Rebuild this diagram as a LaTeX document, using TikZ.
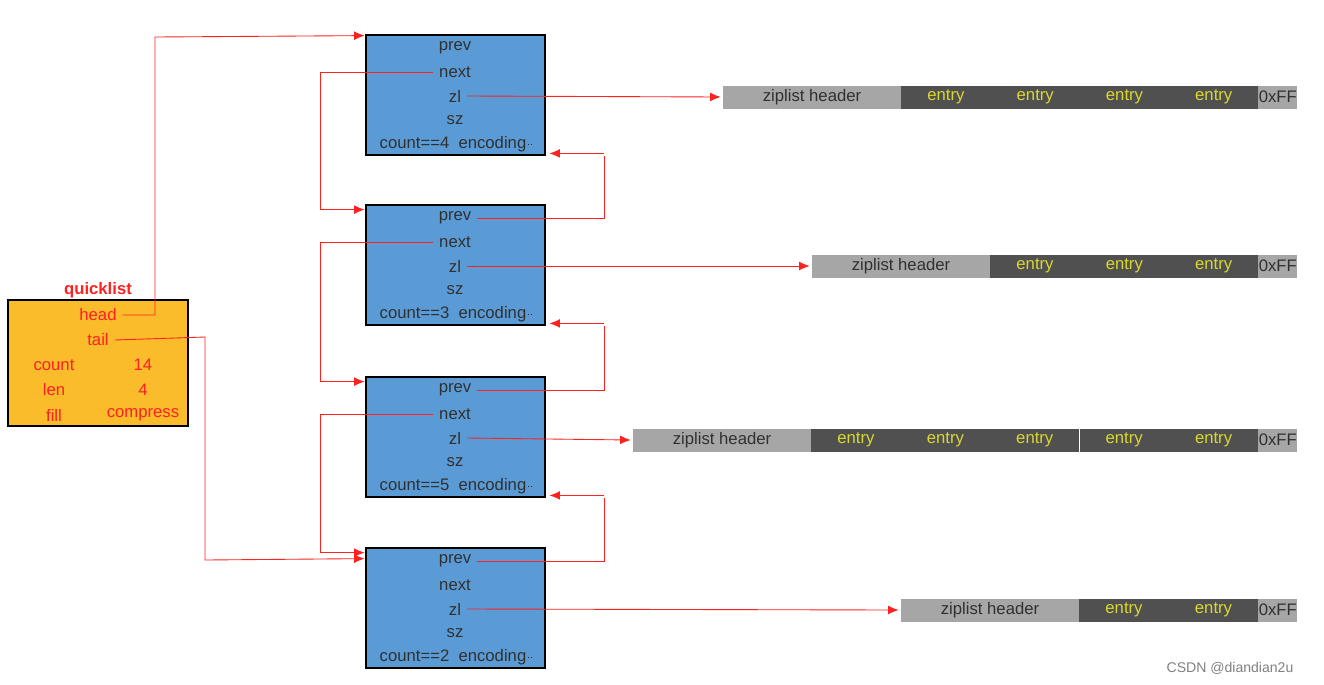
\documentclass[tikz,border=0pt]{standalone}
\usepackage{fontspec}
\setmainfont{Liberation Sans}
\usetikzlibrary{positioning,calc,arrows.meta}
\definecolor{nodeblue}{HTML}{5B9BD5}
\definecolor{qlorange}{HTML}{FBBC2C}
\definecolor{hdrgray}{HTML}{A6A6A6}
\definecolor{entgray}{HTML}{505050}
\definecolor{entyellow}{HTML}{D8D830}
\definecolor{txtdark}{HTML}{303030}
\definecolor{linkred}{HTML}{FF2020}
\begin{document}
\begin{tikzpicture}[x=0.02cm,y=-0.02cm,
  qnode/.style={rectangle,draw=black,line width=1.6pt,fill=nodeblue,minimum width=179*0.02cm,minimum height=120*0.02cm,inner sep=0pt},
  qlist/.style={rectangle,draw=black,line width=1.6pt,fill=qlorange,minimum width=180*0.02cm,minimum height=126*0.02cm,inner sep=0pt},
  field/.style={text=txtdark,font=\fontsize{9.5}{10}\selectfont,inner sep=1pt},
  qfield/.style={text=linkred,font=\fontsize{9.5}{10}\selectfont,inner sep=1pt},
  hdr/.style={rectangle,fill=hdrgray,text=txtdark,minimum width=178*0.02cm,minimum height=23*0.02cm,inner sep=0pt,font=\fontsize{9.5}{10}\selectfont},
  ent/.style={rectangle,fill=entgray,text=entyellow,minimum width=89.25*0.02cm,minimum height=23*0.02cm,inner sep=0pt,font=\fontsize{9.5}{10}\selectfont},
  zend/.style={rectangle,fill=hdrgray,text=txtdark,minimum width=39*0.02cm,minimum height=23*0.02cm,inner sep=0pt,font=\fontsize{9.5}{10}\selectfont},
  link/.style={draw=linkred,line width=0.5pt,-{Latex[length=6pt,width=5pt]}},
  plain/.style={draw=linkred,line width=0.5pt}]

\useasboundingbox (0,0) rectangle (1324,684);

% quicklist
\node[qlist] at (98,363) (ql) {};
\node[font=\bfseries\fontsize{9.5}{10}\selectfont,text=linkred] at (98,290) (qltitle) {quicklist};
\node[qfield] at (98,315) (qlhead) {head};
\node[qfield] at (98,340) (qltail) {tail};
\node[qfield] at (54,365) (qlcount) {count};
\node[qfield] at (143,365) (qlcountv) {14};
\node[qfield] at (54,390) (qllen) {len};
\node[qfield] at (143,390) (qllenv) {4};
\node[qfield] at (54,415) (qlfill) {fill};
\node[qfield] at (143,415) (qlfillv) {compress};

% quicklist nodes
\foreach \i/\y/\c in {1/35/4,2/205/3,3/377/5,4/548/2}{
  \node[qnode] at (455.5,\y+60) (b\i) {};
  \node[field] at (455,\y+13) (b\i prev) {prev};
  \node[field] at (455,\y+37) (b\i next) {next};
  \node[field] at (455,\y+61) (b\i zl) {zl};
  \node[field] at (455,\y+85) (b\i sz) {sz};
  \node[field] at (453,\y+109) (b\i cnt) {count==\c\ \ encoding};
  \draw[densely dotted,line width=0.4pt,txtdark] (b\i cnt.east) -- ++(4,0);
}

% ziplists
\node[hdr] at (812,97) (z1h) {ziplist header};
\foreach \k in {1,...,4}{\node[ent,anchor=west] at (901+89.25*\k-89.25,97) (z1e\k) {entry};}
\node[zend,anchor=west] at (1258,97) (z1end) {0xFF};

\node[hdr] at (901,266) (z2h) {ziplist header};
\foreach \k in {1,...,3}{\node[ent,anchor=west] at (990+89.33*\k-89.33,266) (z2e\k) {entry};}
\node[zend,anchor=west] at (1258,266) (z2end) {0xFF};

\node[hdr] at (722,440) (z3h) {ziplist header};
\foreach \k in {1,...,5}{\node[ent,anchor=west] at (811+89.4*\k-89.4,440) (z3e\k) {entry};}
\node[zend,anchor=west] at (1258,440) (z3end) {0xFF};

\node[hdr] at (990,610) (z4h) {ziplist header};
\foreach \k in {1,...,2}{\node[ent,anchor=west] at (1079+89.5*\k-89.5,610) (z4e\k) {entry};}
\node[zend,anchor=west] at (1258,610) (z4end) {0xFF};

% head / tail
\draw[link] (qlhead.east) ++(4,0) -- (155,315) -- (155,37) -- ([yshift=-2*0.02cm]b1.north west);
\draw[link] (qltail.east) ++(4,0) -- (205,337) -- (205,560) -- ([yshift=-12*0.02cm]b4.north west);

% next pointers
\foreach \i/\j in {1/2,2/3,3/4}{
  \draw[link] ([xshift=-4*0.02cm]b\i next.west) -- ++(-113,0) |- ([yshift=-6*0.02cm]b\j.north west);
}
% prev pointers
\foreach \i/\j in {2/1,3/2,4/3}{
  \draw[link] ([xshift=4*0.02cm]b\i prev.east) -| (604,0 |- b\j.south) ++(0,-3) -- ([xshift=3*0.02cm,yshift=3*0.02cm]b\j.south east);
}
% zl pointers
\draw[link] ([xshift=4*0.02cm]b1zl.east) -- ([xshift=-2*0.02cm]z1h.west);
\draw[link] ([xshift=4*0.02cm]b2zl.east) -- ([xshift=-2*0.02cm]z2h.west);
\draw[link] ([xshift=4*0.02cm]b3zl.east) -- ([xshift=-2*0.02cm]z3h.west);
\draw[link] ([xshift=4*0.02cm]b4zl.east) -- ([xshift=-2*0.02cm]z4h.west);

\node[text=gray,font=\fontsize{8}{9}\selectfont] at (1230,668) (mark) {CSDN @diandian2u};
\end{tikzpicture}
\end{document}
